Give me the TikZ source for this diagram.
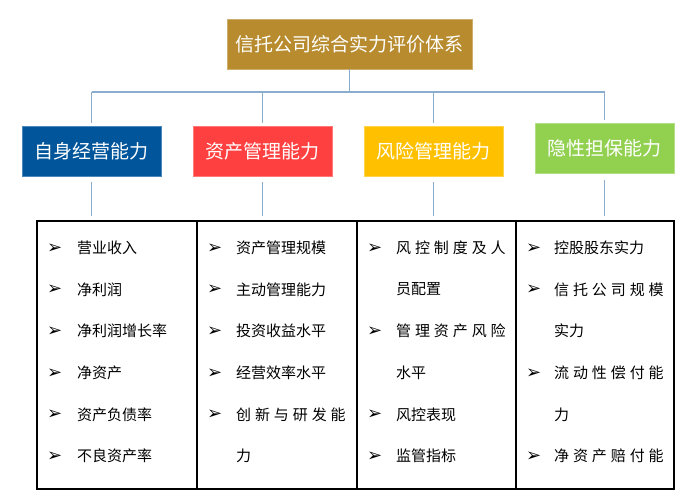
\documentclass[tikz,border=0pt]{standalone}
\usepackage{fontspec}
\newfontfamily\cjk{Noto Sans CJK SC}
\newfontfamily\sym{DejaVu Sans}
\newcommand\wide{\addfontfeature{LetterSpace=26}}
\definecolor{gold}{HTML}{B78B2E}
\definecolor{navy}{HTML}{00559B}
\definecolor{tomato}{HTML}{FF4040}
\definecolor{amber}{HTML}{FFC000}
\definecolor{leaf}{HTML}{92D050}
\definecolor{linkc}{HTML}{8AACCF}
\begin{document}
\begin{tikzpicture}[x=1pt, y=-1pt,
  hd/.style = {minimum width=139pt, minimum height=50pt, inner sep=0pt, text=white,
               font=\cjk\fontsize{19}{19}\selectfont, line width=0.8pt},
  col/.style = {draw, line width=1.2pt, minimum height=268pt, inner sep=0pt},
  link/.style = {draw=linkc, line width=1.6pt},
  bul/.style = {anchor=west, inner sep=0pt, font=\sym\fontsize{18}{18}\selectfont},
  txt/.style = {anchor=west, inner sep=0pt, font=\cjk\fontsize{15}{15}\selectfont}]
  \useasboundingbox (0,0) rectangle (699,502);
  % title and the four headers
  \node[hd, fill=gold, draw=gold!70!white, minimum width=245pt] at (349.5,44) (t) {信托公司综合实力评价体系};
  \node[hd, fill=navy, draw=navy!70!white] at (91.5,151) (b1) {自身经营能力};
  \node[hd, fill=tomato, draw=tomato!70!white] at (262.5,151) (b2) {资产管理能力};
  \node[hd, fill=amber, draw=amber!70!white] at (433.5,151) (b3) {风险管理能力};
  \node[hd, fill=leaf, draw=leaf!70!white] at (604.5,148.5) (b4) {隐性担保能力};
  % table columns
  \node[col, minimum width=160pt] at (117,355) (c1) {};
  \node[col, minimum width=160pt] at (277,355) (c2) {};
  \node[col, minimum width=159pt] at (436.5,355) (c3) {};
  \node[col, minimum width=158pt] at (595,355) (c4) {};
  % connectors
  \coordinate (bar) at (0,92);
  \draw[link] (t.south) -- (t.south |- bar);
  \draw[link] (b1.north |- bar) -- (b4.north |- bar);
  \foreach \i in {1,...,4} {
    \draw[link] (b\i.north |- bar) -- ([yshift=3pt]b\i.north);
    \draw[link] ([yshift=-6pt]b\i.south) -- ([yshift=4pt]b\i.south |- c1.north);
  }
  % items
  \foreach \b/\t [count=\k] in {1/营业收入, 1/净利润, 1/净利润增长率, 1/净资产, 1/资产负债率, 1/不良资产率} {
    \ifnum\b=1 \node[bul] at (47,207+41.6*\k) (p1\k) {➢}; \fi
    \node[txt] at (77,206.4+41.6*\k) (q1\k) {\t};
  }
  \foreach \b/\t [count=\k] in {1/资产管理规模, 1/主动管理能力, 1/投资收益水平, 1/经营效率水平, 1/{\wide 创新与研发能}, 0/力} {
    \ifnum\b=1 \node[bul] at (207,207+41.6*\k) (p2\k) {➢}; \fi
    \node[txt] at (236,206.4+41.6*\k) (q2\k) {\t};
  }
  \foreach \b/\t [count=\k] in {1/{\wide 风控制度及人}, 0/员配置, 1/{\wide 管理资产风险}, 0/水平, 1/风控表现, 1/监管指标} {
    \ifnum\b=1 \node[bul] at (367,207+41.6*\k) (p3\k) {➢}; \fi
    \node[txt] at (396,206.4+41.6*\k) (q3\k) {\t};
  }
  \foreach \b/\t [count=\k] in {1/控股股东实力, 1/{\wide 信托公司规模}, 0/实力, 1/{\wide 流动性偿付能}, 0/力, 1/{\wide 净资产赔付能}} {
    \ifnum\b=1 \node[bul] at (526,207+41.6*\k) (p4\k) {➢}; \fi
    \node[txt] at (554,206.4+41.6*\k) (q4\k) {\t};
  }
\end{tikzpicture}
\end{document}
